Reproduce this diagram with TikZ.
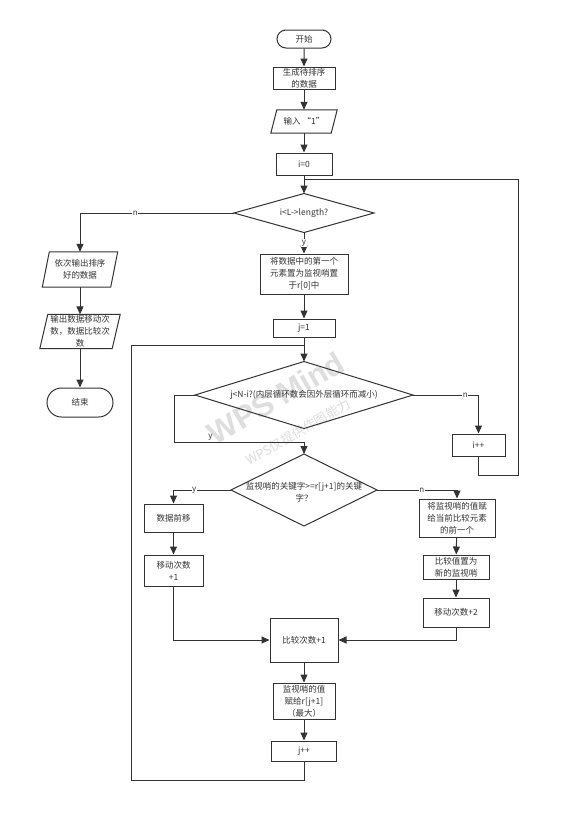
\documentclass[tikz,border=0pt]{standalone}
\usepackage{fontspec}
\setmainfont{Noto Sans CJK SC}
\newfontfamily\wmfont{Liberation Sans}
\usetikzlibrary{arrows.meta,shapes.geometric,shapes.misc}
\definecolor{ln}{HTML}{333333}
\begin{document}
\begin{tikzpicture}[x=1pt,y=-1pt,
  font=\fontsize{8.5}{12}\selectfont,
  box/.style={draw=ln, line width=1pt, rectangle, align=center, inner sep=1pt, text=ln},
  rrect/.style={draw=ln, line width=1pt, rounded rectangle, align=center, inner sep=1pt, text=ln},
  para/.style={draw=none, rectangle, align=center, inner sep=1pt, text=ln},
  dia/.style={draw=ln, line width=1pt, diamond, inner sep=0pt, outer sep=0pt},
  dtext/.style={align=center, inner sep=0pt, text=ln},
  ar/.style={draw=ln, line width=1pt, -{Triangle[length=8pt,width=7pt]}},
  ln/.style={draw=ln, line width=1pt},
  lbl/.style={fill=white, inner sep=0.6pt, text=ln, font=\fontsize{8}{9}\selectfont},
  wm/.style={text=black!13, rotate=30, inner sep=0pt}
]
\useasboundingbox (0,0) rectangle (561,820);
\fill[white] (0,0) rectangle (561,820);

% watermark
\node[wm, font=\wmfont\bfseries\fontsize{31}{31}\selectfont] (wm1) at (276,398) {WPS Mind};
\node[wm, font=\fontsize{13}{13}\selectfont] (wm2) at (298,432) {WPS仅提供作图能力};

% main column
\node[rrect, minimum width=56, minimum height=18] (start) at (304,39) {开始};
\node[box, minimum width=62, minimum height=22] (gen) at (304,78) {生成待排序\\的数据};
\node[para, minimum width=60, minimum height=23] (in) at (304,121.5) {输入 “1”};
\draw[ln] ([xshift=3pt]in.north west) -- ([xshift=3pt]in.north east) -- ([xshift=-3pt]in.south east) -- ([xshift=-3pt]in.south west) -- cycle;
\node[box, minimum width=56, minimum height=22] (i0) at (304,164) {i=0};
\node[dia, minimum width=140, minimum height=39] (d1) at (304,213) {};
\node[dtext] (d1t) at (d1) {i<L->length?};
\node[box, minimum width=88, minimum height=40] (r0) at (304,274) {将数据中的第一个\\元素置为监视哨置\\于r[0]中};
\node[box, minimum width=62, minimum height=18] (j1) at (304,328) {j=1};
\node[dia, minimum width=218, minimum height=67] (d2) at (304,395) {};
\node[dtext] (d2t) at (d2) {j<N-i?(内层循环数会因外层循环而减小)};
\node[box, minimum width=53, minimum height=22] (ipp) at (478.5,445) {i++};
\node[dia, minimum width=146, minimum height=72] (d3) at (304,490) {};
\node[dtext] (d3t) at (304,492) {监视哨的关键字>=r[j+1]的关键\\字？};
\node[box, minimum width=59, minimum height=28] (dm) at (173.5,518) {数据前移};
\node[box, minimum width=59, minimum height=31] (m1) at (173.5,570.5) {移动次数\\+1};
\node[box, minimum width=76, minimum height=38] (a1) at (457,518) {将监视哨的值赋\\给当前比较元素\\的前一个};
\node[box, minimum width=66, minimum height=24] (a2) at (456,567) {比较值置为\\新的监视哨};
\node[box, minimum width=66, minimum height=29] (a3) at (456,612.5) {移动次数+2};
\node[box, minimum width=68, minimum height=44] (cmp) at (304,640) {比较次数+1};
\node[box, minimum width=62, minimum height=36] (asg) at (304,701) {监视哨的值\\赋给r[j+1]\\（最大）};
\node[box, minimum width=65, minimum height=20] (jpp) at (304,751) {j++};

% left column
\node[para, minimum width=68, minimum height=35] (o1) at (80,269.5) {依次输出排序\\好的数据};
\draw[ln] ([xshift=3.5pt]o1.north west) -- ([xshift=3.5pt]o1.north east) -- ([xshift=-3.5pt]o1.south east) -- ([xshift=-3.5pt]o1.south west) -- cycle;
\node[para, minimum width=72, minimum height=31] (o2) at (80,331.5) {输出数据移动次\\数，数据比较次\\数};
\draw[ln] ([xshift=4pt]o2.north west) -- ([xshift=4pt]o2.north east) -- ([xshift=-4pt]o2.south east) -- ([xshift=-4pt]o2.south west) -- cycle;
\node[rrect, minimum width=68, minimum height=29] (end) at (80,402.5) {结束};

% helper coordinates
\coordinate (c1) at (518,475);
\coordinate (j1c) at (304,179);
\coordinate (c2) at (131,780);
\coordinate (j2c) at (304,345);
\coordinate (c3) at (174,442);
\coordinate (c4) at (304,442);

% connectors
\draw[ar] (start) -- (gen);
\draw[ar] (gen) -- (in);
\draw[ar] (in) -- (i0);
\draw[ar] (i0) -- (d1.north);
\draw[ln] (ipp.south) |- (c1) |- (j1c);
\draw[ar] (d1.south) -- node[lbl] {y} (r0);
\draw[ar] (d1.west) -| node[lbl, pos=0.32] {n} (o1.north);
\draw[ar] (o1) -- (o2);
\draw[ar] (o2) -- (end);
\draw[ar] (r0) -- (j1);
\draw[ar] (j1) -- (d2.north);
\draw[ln] (jpp.south) |- (c2) |- (j2c);
\draw[ar] (d2.west) -| (c3) -- node[lbl, pos=0.28, above=0.5pt, fill=none] {y} (c4) -- (d3.north);
\draw[ar] (d2.east) -| node[lbl, pos=0.4] {n} (ipp.north);
\draw[ar] (d3.west) -| node[lbl, pos=0.32] {y} (dm.north);
\draw[ar] (d3.east) -| node[lbl, pos=0.28] {n} (a1.north);
\draw[ar] (dm) -- (m1);
\draw[ar] (m1.south) |- (cmp.west);
\draw[ar] (a1) -- (a2);
\draw[ar] (a2) -- (a3);
\draw[ar] (a3.south) |- (cmp.east);
\draw[ar] (cmp) -- (asg);
\draw[ar] (asg) -- (jpp);
\end{tikzpicture}
\end{document}
